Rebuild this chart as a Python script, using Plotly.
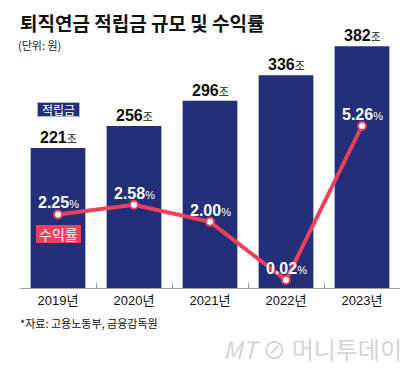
import plotly.graph_objects as go

years = ["2019년", "2020년", "2021년", "2022년", "2023년"]
reserves = [221, 256, 296, 336, 382]          # 조 원
returns = [2.25, 2.58, 2.00, 0.02, 5.26]      # %

NAVY = "#232f78"
RED = "#ee3f5c"
NUMFONT = "Liberation Sans Narrow, Arial Narrow, Liberation Sans, Noto Sans CJK KR, sans-serif"
KFONT = "Noto Sans CJK KR, sans-serif"

fig = go.Figure()
fig.add_trace(go.Bar(
    x=years, y=reserves, marker=dict(color=NAVY, line=dict(width=0)),
    width=0.72, yaxis="y", showlegend=False, hoverinfo="skip"))
fig.add_trace(go.Scatter(
    x=years, y=returns, yaxis="y2", mode="lines+markers",
    line=dict(color=RED, width=4),
    marker=dict(size=8, color="white", line=dict(color=RED, width=2)),
    showlegend=False, hoverinfo="skip"))

ann = []
for yr, v in zip(years, reserves):
    ann.append(dict(
        x=yr, y=v, xref="x", yref="y", yanchor="bottom", yshift=0, showarrow=False,
        text=f"<b>{v}</b><span style='font-size:11px'>조</span>",
        font=dict(family=NUMFONT, size=16, color="#111")))
for yr, r in zip(years, returns):
    ann.append(dict(
        x=yr, y=r, xref="x", yref="y2", yanchor="bottom", yshift=1, showarrow=False,
        text=f"<b>{r:.2f}</b><span style='font-size:11px'>%</span>",
        font=dict(family=NUMFONT, size=16, color="white")))

ann += [
    dict(x=0, y=1, xref="paper", yref="paper", xanchor="left", yanchor="top",
         xshift=-2, yshift=33, showarrow=False,
         text="<b>퇴직연금 적립금 규모 및 수익률</b>",
         font=dict(family=KFONT, size=19, color="#111")),
    dict(x=0, y=1, xref="paper", yref="paper", xanchor="left", yanchor="top",
         xshift=-4, yshift=5, showarrow=False, text="(단위: 원)",
         font=dict(family=KFONT, size=11, color="#222")),
    dict(x="2019년", y=(288 - 109) / 248, xref="x", yref="paper", showarrow=False,
         yanchor="middle",
         text="적립금", font=dict(family=KFONT, size=12, color="white"),
         width=41, height=13,
         bgcolor=NAVY, bordercolor="#a8b4e0", borderwidth=1, borderpad=0),
    dict(x="2019년", y=(288 - 234) / 248, xref="x", yref="paper", showarrow=False,
         yanchor="middle",
         text="수익률", font=dict(family=KFONT, size=14, color="white"),
         width=43, height=16,
         bgcolor=RED, bordercolor=RED, borderwidth=1, borderpad=0),
    dict(x=-2 / 380, y=-35 / 248, xref="paper", yref="paper", xanchor="left",
         yanchor="middle", showarrow=False, text="*자료: 고용노동부, 금융감독원",
         font=dict(family=KFONT, size=11, color="#111")),
    dict(x=1.01, y=-60 / 248, xref="paper", yref="paper", xanchor="right",
         yanchor="middle", showarrow=False,
         text="<i>MT</i> ⊘ 머니투데이",
         font=dict(family=KFONT, size=24, color="#d4d4d4")),
]

fig.update_layout(
    width=420, height=372,
    margin=dict(l=20, r=20, t=40, b=84),
    paper_bgcolor="white", plot_bgcolor="white",
    bargap=0.28,
    xaxis=dict(
        type="category", showline=True, linecolor="#a0a0a0", linewidth=1,
        ticks="inside", ticklen=5, tickcolor="#a0a0a0", tickson="boundaries",
        showgrid=False, tickfont=dict(family="Liberation Sans, Arial, Noto Sans CJK KR", size=13, color="#111"),
        fixedrange=True),
    yaxis=dict(range=[0, 248 / 0.633], visible=False, showgrid=False, fixedrange=True),
    yaxis2=dict(range=[-(288 - 280.6) / 29.4, (280.6 - 40) / 29.4], overlaying="y",
                visible=False, showgrid=False, fixedrange=True),
    annotations=ann,
)

fig.write_html("out.html", config={"displayModeBar": False},
               post_script="document.body.style.margin='0';")
